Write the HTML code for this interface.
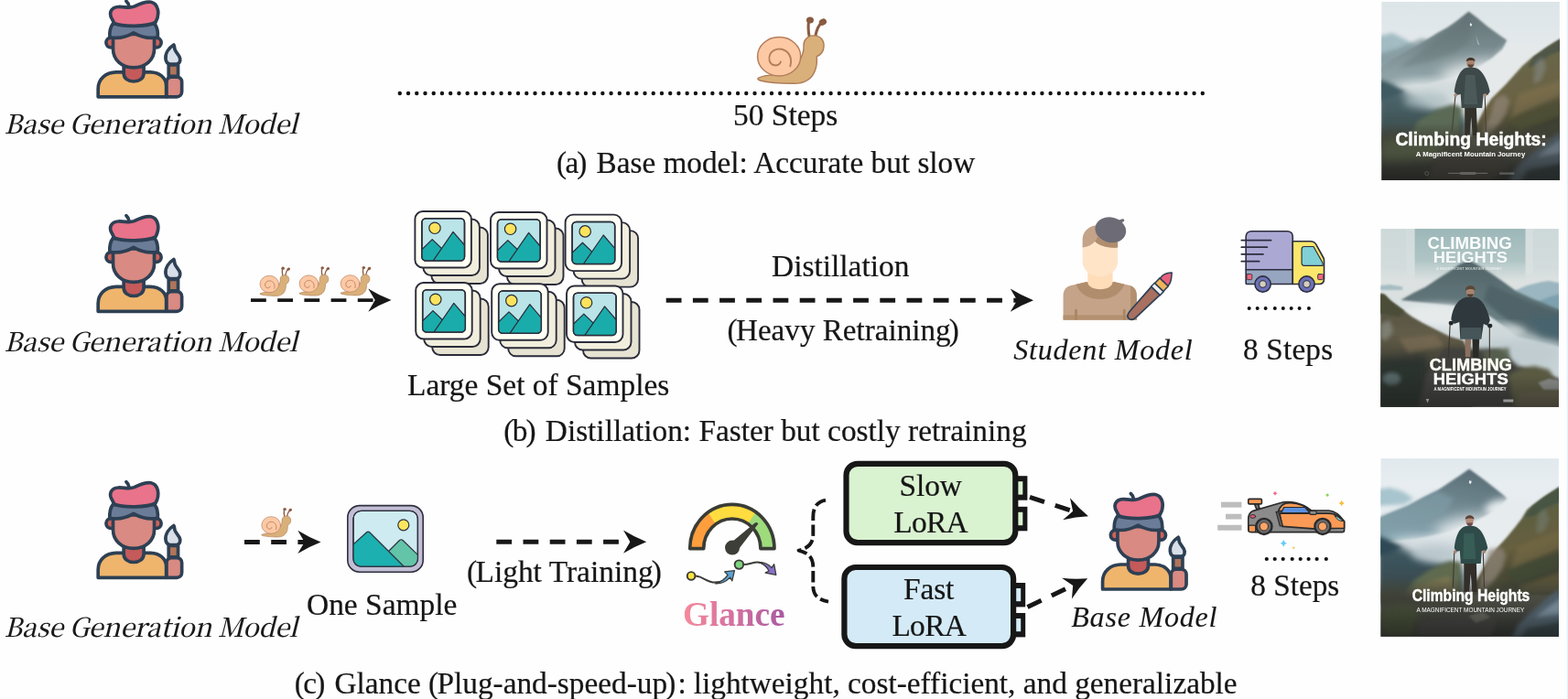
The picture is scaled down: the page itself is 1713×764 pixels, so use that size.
<!DOCTYPE html>
<html lang="en">
<head>
<meta charset="utf-8">
<title>Glance: base model, distillation, and plug-and-speed-up comparison</title>
<style>
  html, body { margin: 0; padding: 0; background: #ffffff; }
  body { width: 1713px; height: 764px; overflow: hidden; position: relative; }
  svg#fig { position: absolute; left: 0; top: 0; display: block; will-change: transform; }
  .t  { font-family: "Liberation Serif", serif; fill: #161616; font-size: 33.45px; stroke: #161616; stroke-width: 0.22px; }
  .ti { font-family: "Liberation Serif", serif; fill: #161616; font-size: 33.45px; font-style: italic; stroke: #161616; stroke-width: 0.22px; }
  .tn { font-family: "Noto Serif CJK SC", "Liberation Serif", serif; fill: #1a1a1a; font-size: 28.6px; font-style: italic; font-weight: 500; letter-spacing: -0.28px; }
  .ph { font-family: "Liberation Sans", sans-serif; font-weight: bold; fill: #ffffff; }
</style>
</head>
<body>
<svg id="fig" width="1713" height="764" viewBox="0 0 1713 764">
<rect x="0" y="0" width="1713" height="764" fill="#fefefe"/>
<defs>
  <linearGradient id="gl" x1="0" y1="0" x2="1" y2="0">
    <stop offset="0" stop-color="#f68a9b"/>
    <stop offset="0.5" stop-color="#d4709f"/>
    <stop offset="1" stop-color="#a85aa2"/>
  </linearGradient>

  <!-- artist with beret + brush (outlined flat icon); local units = 1/6.112 px -->
  <symbol id="artist" viewBox="0 0 764 764">
    <g stroke="#2e4054" stroke-width="22.5" stroke-linejoin="round" stroke-linecap="round">
      <!-- shirt -->
      <path d="M105 703 V650 C105 585 155 540 225 538 H455 C515 540 560 575 560 630 V703 Z" fill="#f0b56c"/>
      <!-- neck -->
      <path d="M276 500 V545 C276 580 305 600 342 600 C380 600 410 580 410 545 V500 Z" fill="#c45a5a"/>
      <!-- ears -->
      <circle cx="191.5" cy="341" r="33" fill="#cf6259"/>
      <circle cx="493.5" cy="341" r="33" fill="#cf6259"/>
      <!-- face -->
      <path d="M205 285 V385 C205 455 262 508 342 508 C422 508 480 455 480 385 V285 Z" fill="#d98a82"/>
      <!-- hair -->
      <path d="M183 305 C180 266 188 236 203 216 H483 C498 236 506 266 503 305 C440 316 385 300 342 275 C300 300 245 316 183 305 Z" fill="#6b7c98"/>
      <!-- beret stem -->
      <path d="M312 100 C310 85 303 72 293 64" fill="none"/>
      <!-- beret -->
      <path d="M200 186 C172 144 192 104 240 102 C285 100 312 114 345 100 C385 80 420 64 458 70 C505 80 522 146 488 206 C430 236 270 236 216 214 C208 206 204 196 200 186 Z" fill="#e8738a"/>
      <!-- brush tip -->
      <path d="M610 356 C580 375 552 410 556 450 C558 470 570 482 585 484 H630 C645 482 655 470 652 448 C650 425 625 410 618 388 C614 376 616 366 610 356 Z" fill="#d8dfe8"/>
      <!-- ferrule -->
      <rect x="576" y="490" width="63" height="75" fill="#b0755a"/>
      <!-- hand -->
      <path d="M562 703 V604 C562 585 577 570 596 570 H630 C649 570 664 585 664 604 V669 C664 688 649 703 630 703 Z" fill="#d98a82"/>
    </g>
  </symbol>

  <!-- snail; local units = 1/8.49 px -->
  <symbol id="snail" viewBox="0 0 849 764">
    <g stroke-linejoin="round" stroke-linecap="round">
      <!-- antennae -->
      <path d="M588 258 C578 210 574 160 582 112" fill="none" stroke="#8a5a42" stroke-width="26"/>
      <path d="M644 250 C652 200 672 150 706 120" fill="none" stroke="#8a5a42" stroke-width="26"/>
      <ellipse cx="594" cy="102" rx="34" ry="30" fill="#8a5a42"/>
      <ellipse cx="712" cy="120" rx="36" ry="30" fill="#8a5a42" transform="rotate(-25 712 120)"/>
      <!-- body -->
      <path d="M112 640 C150 620 200 612 250 612 C330 612 420 580 480 500 C520 445 540 400 535 340 C532 290 570 245 628 245 C690 245 725 290 722 345 C720 395 690 425 655 440 C660 480 655 530 640 570 C610 650 540 690 440 690 C330 690 200 680 130 662 C112 656 105 648 112 640 Z" fill="#d9b07a" stroke="#b07c58" stroke-width="12"/>
      <!-- shell -->
      <ellipse cx="307" cy="439" rx="200" ry="180" fill="#fdc9a5" stroke="#b57e5c" stroke-width="13"/>
      <!-- spiral -->
      <path d="M322 488 C318 515 285 528 255 518 C215 505 205 455 225 415 C250 370 315 355 365 385 C420 418 425 490 410 530" fill="none" stroke="#b47c5b" stroke-width="16"/>
    </g>
  </symbol>

  <!-- student (flat, no outline); local units = 1/5.879 px -->
  <symbol id="student" viewBox="0 0 823 764">
    <!-- body -->
    <path d="M68 715 V560 C68 520 90 498 125 492 L215 472 H400 L490 492 C520 498 540 520 540 560 V715 Z" fill="#c4a389"/>
    <path d="M500 496 C525 504 540 524 540 560 V715 H500 Z" fill="#b3906f"/>
    <rect x="68" y="684" width="472" height="31" fill="#b3906f"/>
    <rect x="142" y="645" width="16" height="70" rx="8" fill="#a98563"/>
    <rect x="452" y="645" width="16" height="70" rx="8" fill="#a98563"/>
    <!-- collar -->
    <path d="M150 486 L215 472 H400 L460 486 C440 545 380 582 305 582 C230 582 170 545 150 486 Z" fill="#b08d6c"/>
    <!-- neck -->
    <path d="M225 390 H385 V470 C385 500 350 518 305 518 C260 518 225 500 225 470 Z" fill="#ffddb8"/>
    <!-- face -->
    <path d="M192 215 H418 V340 C418 395 370 436 305 436 C240 436 192 395 192 340 Z" fill="#ffe4c8"/>
    <!-- hair -->
    <path d="M192 250 V200 C192 140 240 104 305 104 C370 104 418 140 418 200 V250 C370 255 310 245 272 212 C250 235 225 248 192 250 Z" fill="#c4a389"/>
    <path d="M272 212 C300 240 360 255 418 250 V215 C380 225 320 215 290 180 Z" fill="#b08d6c"/>
    <!-- beret -->
    <ellipse cx="372" cy="137" rx="100" ry="81" fill="#6d6b75" transform="rotate(14 372 137)"/>
    <path d="M400 102 C415 88 432 80 450 76" stroke="#6d6b75" stroke-width="20" stroke-linecap="round" fill="none"/>
    <!-- brush -->
    <g transform="rotate(-46 505 690)">
      <path d="M482 690 C482 672 495 664 520 662 L730 652 V728 L520 718 C495 716 482 708 482 690 Z" fill="#a87060" stroke="#2e4057" stroke-width="10" stroke-linejoin="round"/>
      <rect x="730" y="650" width="32" height="80" fill="#eef1f4" stroke="#2e4057" stroke-width="9"/>
      <path d="M762 652 H808 V728 H762 Z" fill="#f0b458" stroke="#2e4057" stroke-width="9" stroke-linejoin="round"/>
      <path d="M808 655 C835 650 862 660 886 684 C862 704 838 728 808 725 Z" fill="#e8607b" stroke="#2e4057" stroke-width="9" stroke-linejoin="round"/>
    </g>
  </symbol>

  <!-- delivery truck; local units = 1/6.94 px -->
  <symbol id="truck" viewBox="0 0 833 764">
    <g stroke="#2c2d3e" stroke-width="11" stroke-linejoin="round" stroke-linecap="round">
      <path d="M112 380 V130 C112 105 130 88 155 88 H425 C450 88 467 105 467 130 V380 Z" fill="#aba9d4"/>
      <path d="M112 380 H467 V490 H120 C115 490 112 487 112 482 Z" fill="#96a5c0"/>
      <path d="M467 165 H600 C620 165 635 172 645 190 L700 290 C704 297 705 303 705 310 V450 C705 475 690 490 665 490 H467 Z" fill="#fbe76b"/>
      <path d="M555 205 H625 L695 330 V350 H555 C543 350 535 342 535 330 V225 C535 213 543 205 555 205 Z" fill="#80d0d6" stroke-width="8"/>
      <rect x="118" y="414" width="40" height="42" rx="8" fill="#f2677c" stroke-width="6"/>
      <rect x="657" y="414" width="42" height="42" rx="8" fill="#f2677c" stroke-width="6"/>
      <circle cx="240" cy="490" r="60" fill="#6c70b5"/>
      <circle cx="573" cy="490" r="60" fill="#6c70b5"/>
      <circle cx="240" cy="490" r="26" fill="#d4cfbd" stroke-width="7"/>
      <circle cx="573" cy="490" r="26" fill="#d4cfbd" stroke-width="7"/>
      <path d="M78 157 H303 M78 210 H273 M78 263 H243 M78 317 H213" fill="none" stroke-width="12"/>
    </g>
  </symbol>

  <!-- race car; local units = 1/8.044 px -->
  <symbol id="car" viewBox="0 0 1287 764">
    <rect x="112" y="150" width="181" height="48" fill="#bdbdbd"/>
    <rect x="153" y="255" width="140" height="47" fill="#bdbdbd"/>
    <rect x="82" y="352" width="211" height="48" fill="#bdbdbd"/>
    <g stroke="#2a2a2a" stroke-width="13" stroke-linejoin="round" stroke-linecap="round">
      <!-- spoiler -->
      <path d="M405 165 L425 215 L450 205 L440 165 Z" fill="#6f6f6f"/>
      <rect x="352" y="124" width="118" height="44" rx="10" fill="#fa9a56"/>
      <!-- body rear (gray) -->
      <path d="M352 395 V300 C352 265 365 240 395 228 L625 160 C665 148 720 146 770 158 C820 170 870 195 905 225 H1060 C1110 228 1160 270 1195 320 V405 C1195 410 1190 415 1180 415 H375 C360 415 352 408 352 395 Z" fill="#8b8b8b"/>
      <!-- orange body -->
      <path d="M628 250 H1060 C1110 250 1160 280 1195 322 V380 L920 385 L650 365 Z" fill="#fa9a56"/>
      <path d="M615 230 C630 195 650 170 680 162 C730 155 790 165 830 180 L890 225 Z" fill="#fa9a56"/>
      <!-- window -->
      <path d="M665 197 H850 L892 247 H640 Z" fill="#5b90e0" stroke-width="10"/>
      <!-- pillar -->
      <path d="M595 235 L620 240 L655 360 L630 362 Z" fill="#5f5f5f" stroke-width="9"/>
      <rect x="892" y="228" width="58" height="32" rx="8" fill="#8b8b8b" stroke-width="9"/>
      <!-- lights -->
      <path d="M1112 272 C1140 280 1165 298 1182 318 C1160 318 1130 310 1112 272 Z" fill="#8ad8e6" stroke-width="8"/>
      <ellipse cx="392" cy="277" rx="24" ry="15" fill="#e65a7c" stroke-width="8"/>
      <rect x="356" y="355" width="60" height="58" rx="10" fill="#fa9a56" stroke-width="9"/>
      <!-- wheels -->
      <circle cx="490" cy="365" r="69" fill="#6b6b6b" stroke-width="19"/>
      <circle cx="1005" cy="365" r="69" fill="#6b6b6b" stroke-width="19"/>
      <circle cx="490" cy="365" r="37" fill="#fda566" stroke-width="7"/>
      <circle cx="1005" cy="365" r="37" fill="#fda566" stroke-width="7"/>
    </g>
    <!-- sparkles -->
    <path d="M587 55 Q592 70 607 75 Q592 80 587 95 Q582 80 567 75 Q582 70 587 55 Z" fill="#f46a8e"/>
    <circle cx="1047" cy="89" r="13" fill="#8ad45a"/>
    <path d="M1172 135 Q1178 154 1197 160 Q1178 166 1172 187 Q1166 166 1147 160 Q1166 154 1172 135 Z" fill="#f6c044"/>
    <path d="M662 482 Q668 507 693 513 Q668 519 662 545 Q656 519 631 513 Q656 507 662 482 Z" fill="#62ccf5"/>
    <path d="M750 540 Q753 550 765 553 Q753 556 750 567 Q747 556 735 553 Q747 550 750 540 Z" fill="#f6c044"/>
  </symbol>

  <!-- stack of pictures; local units = px, front card 62x62 -->
  <symbol id="stack" viewBox="0 0 84 84" overflow="visible">
    <g stroke="#2b2c3a" stroke-width="1.9" stroke-linejoin="round">
      <rect x="19" y="18.5" width="61.5" height="61.5" rx="8.5" fill="#e7e3d2"/>
      <rect x="10" y="9.5" width="61.5" height="61.5" rx="8.5" fill="#f1eedd"/>
      <rect x="1" y="1" width="61.5" height="61.5" rx="8.5" fill="#fffff4"/>
      <rect x="8.5" y="8.8" width="46.6" height="46.2" rx="4.5" fill="#bae4e8" stroke-width="1.5"/>
    </g>
    <clipPath id="stackclip"><rect x="8.5" y="8.8" width="46.6" height="46.2" rx="4.5"/></clipPath>
    <g clip-path="url(#stackclip)" stroke="#2b2c3a" stroke-width="1.2" stroke-linejoin="round">
      <path d="M0 51 L19.8 31.6 L40 51 V60 H0 Z" fill="#1aacab"/>
      <path d="M16 62 L42.6 23.4 L62 46 V62 Z" fill="#1aacab"/>
    </g>
    <rect x="8.5" y="8.8" width="46.6" height="46.2" rx="4.5" fill="none" stroke="#2b2c3a" stroke-width="1.5"/>
    <circle cx="22.6" cy="19.3" r="6.2" fill="#fbe35c" stroke="#2b2c3a" stroke-width="1.2"/>
  </symbol>
</defs>
<!-- ===== row (a) ===== -->
<use href="#artist" x="90" y="-9.2" width="125" height="125"/>
<!-- ===== row (b) ===== -->
<use href="#artist" x="90" y="225.3" width="125" height="125"/>
<!-- ===== row (c) ===== -->
<use href="#artist" x="90" y="516.3" width="125" height="125"/>
<use href="#artist" x="1187.4" y="529" width="125" height="125"/>
<!-- snails -->
<use href="#snail" x="815" y="10" width="100" height="90"/>
<!-- small snails on arrow (row b) -->
<use href="#snail" x="278.5" y="287.9" width="43.8" height="39.4"/>
<use href="#snail" x="321.6" y="287.5" width="43.8" height="39.4"/>
<use href="#snail" x="366.7" y="287.3" width="43.8" height="39.4"/>
<!-- sample stacks -->
<use href="#stack" x="452.4" y="230" width="84" height="84"/>
<use href="#stack" x="535" y="231" width="84" height="84"/>
<use href="#stack" x="616.6" y="233.6" width="84" height="84"/>
<use href="#stack" x="453.2" y="308" width="84" height="84"/>
<use href="#stack" x="536.2" y="309.3" width="84" height="84"/>
<use href="#stack" x="618" y="311.5" width="84" height="84"/>
<!-- student + truck -->
<use href="#student" x="1150" y="228" width="140" height="130"/>
<use href="#truck" x="1345" y="240" width="120" height="110"/>
<!-- row c -->
<use href="#snail" x="280.3" y="551.2" width="44" height="39.6"/>
<use href="#car" x="1320" y="530" width="160" height="95"/>
<!-- ===== dotted lines ===== -->
<g fill="#111111">
  <path id="dots50" d="M436.8 102 H1314.5" fill="none" stroke="#111111" stroke-width="4.4" stroke-linecap="round" stroke-dasharray="0 9.2316"/>
  <g id="dots8b">
    <circle cx="1364.7" cy="337" r="2"/><circle cx="1373.7" cy="337" r="2"/><circle cx="1382.6" cy="337" r="2"/><circle cx="1392.8" cy="337" r="2"/>
    <circle cx="1401.8" cy="337" r="2"/><circle cx="1410.7" cy="337" r="2"/><circle cx="1419.6" cy="337" r="2"/><circle cx="1429.9" cy="337" r="2"/>
  </g>
  <g id="dots8c">
    <circle cx="1383.8" cy="611" r="2.1"/><circle cx="1392.7" cy="611" r="2.1"/><circle cx="1401.7" cy="611" r="2.1"/><circle cx="1411.7" cy="611" r="2.1"/>
    <circle cx="1420.7" cy="611" r="2.1"/><circle cx="1429.6" cy="611" r="2.1"/><circle cx="1438.6" cy="611" r="2.1"/><circle cx="1448.8" cy="611" r="2.1"/>
  </g>
</g>

<!-- ===== dashed arrows ===== -->
<g stroke="#171717" fill="none" stroke-width="5">
  <path d="M274 328.1 H411" stroke-dasharray="16.8 12.4" stroke-width="3.8"/>
  <path d="M727.7 328.2 H1113" stroke-dasharray="16.8 12.4"/>
  <path d="M267 592.4 H334" stroke-dasharray="16.8 12.4"/>
  <path d="M542.3 592.2 H690" stroke-dasharray="16.8 12.4"/>
  <path d="M1125 543.4 L1172 558.8" stroke-dasharray="16.8 12.4"/>
  <path d="M1122.5 663.6 L1170 640.8" stroke-dasharray="16.8 12.4"/>
</g>
<g fill="#171717">
  <path d="M0 0 Q-13 -5 -25.2 -12.6 L-17.8 0 L-25.2 12.6 Q-13 5 0 0 Z" transform="translate(427.5 328.1)"/>
  <path d="M0 0 Q-13 -5 -25.2 -12.6 L-17.8 0 L-25.2 12.6 Q-13 5 0 0 Z" transform="translate(1129 328.2)"/>
  <path d="M0 0 Q-13 -5 -25.2 -12.6 L-17.8 0 L-25.2 12.6 Q-13 5 0 0 Z" transform="translate(350.5 592.4)"/>
  <path d="M0 0 Q-13 -5 -25.2 -12.6 L-17.8 0 L-25.2 12.6 Q-13 5 0 0 Z" transform="translate(706.2 592.2)"/>
  <path d="M0 0 Q-13 -5 -25.2 -12.6 L-17.8 0 L-25.2 12.6 Q-13 5 0 0 Z" transform="translate(1189 564.2) rotate(18.2)"/>
  <path d="M0 0 Q-13 -5 -25.2 -12.6 L-17.8 0 L-25.2 12.6 Q-13 5 0 0 Z" transform="translate(1188.2 632.2) rotate(-25.7)"/>
</g>

<!-- ===== single sample picture ===== -->
<g stroke="#2f2f3e" stroke-linejoin="round">
  <rect x="379.8" y="552.6" width="82.4" height="72.6" rx="13" fill="#c1bed5" stroke-width="1.6"/>
  <rect x="386" y="558.4" width="70.4" height="60.8" rx="8.5" fill="#cdebf0" stroke-width="1.3"/>
</g>
<clipPath id="picclip"><rect x="386" y="558.4" width="70.4" height="60.8" rx="8.5"/></clipPath>
<g clip-path="url(#picclip)" stroke="#2f2f3e" stroke-width="1.2" stroke-linejoin="round">
  <path d="M420 607 L436.5 590.5 Q438.3 589 440 590.5 L458 608 V622 H430 Z" fill="#63c4a8"/>
  <path d="M380 600.5 L400.3 582 Q402.2 580.4 404 582 L442 620 H380 Z" fill="#1cb0b0"/>
</g>
<rect x="386" y="558.4" width="70.4" height="60.8" rx="8.5" fill="none" stroke="#2f2f3e" stroke-width="1.3"/>
<circle cx="440.8" cy="573.8" r="6" fill="#fbe55f" stroke="#2f2f3e" stroke-width="1.2"/>

<!-- ===== speed gauge ("Glance") ===== -->
<g transform="translate(735 535) scale(0.21609)">
  <path d="M86.5 299.0 A213.5 223.5 0 0 1 180.6 113.7 L219.5 173.8 A144 151 0 0 0 156.0 299.0 Z" fill="#ff9e3d"/>
  <path d="M177.5 115.9 A213.5 223.5 0 0 1 422.5 115.9 L382.6 175.3 A144 151 0 0 0 217.4 175.3 Z" fill="#ffdc3f"/>
  <path d="M419.4 113.7 A213.5 223.5 0 0 1 513.5 299.0 L444.0 299.0 A144 151 0 0 0 380.5 173.8 Z" fill="#9edb7c"/>
  <path d="M86.5 299.0 A213.5 223.5 0 0 1 513.5 299.0 H444.0 A144 151 0 0 0 156.0 299.0 Z" fill="none" stroke="#3a3c36" stroke-width="17" stroke-linejoin="round"/>
  <circle cx="301" cy="294" r="37" fill="#3d3e37"/>
  <path d="M284 278 L414 170 Q426 162 432 174 L324 314 Z" fill="#3d3e37"/>
  <!-- path with nodes -->
  <g fill="none" stroke="#3a3c36" stroke-width="9" stroke-linecap="round">
    <path d="M112 437 C150 437 170 470 215 470 C250 470 275 455 292 432"/>
    <path d="M357 380 C390 380 400 368 430 368 C465 368 485 395 498 420"/>
  </g>
  <path d="M262 416 L312 410 L300 462 L290 445 C270 465 240 478 215 476 C245 468 265 452 278 432 Z" fill="#5aa2d4" stroke="#3a3c36" stroke-width="6" stroke-linejoin="round"/>
  <path d="M512 378 L522 432 L468 422 L486 412 C476 392 458 376 436 370 C462 368 484 378 500 396 Z" fill="#8a70c8" stroke="#3a3c36" stroke-width="6" stroke-linejoin="round"/>
  <circle cx="93" cy="437" r="20" fill="#ffe23f" stroke="#3a3c36" stroke-width="9"/>
  <circle cx="335" cy="380" r="22" fill="#7ed47e" stroke="#3a3c36" stroke-width="9"/>
</g>

<!-- ===== dashed curly brace ===== -->
<path d="M902 546.6 C893 548.5 888.3 554 888.3 565 V584 C888.3 593 884 599 872.5 601.6 C884 604.5 888.3 610 888.3 620 V640 C888.3 650 893 655.5 905 657.6" fill="none" stroke="#171717" stroke-width="3.9" stroke-dasharray="12.4 4.4" stroke-linejoin="round"/>

<!-- ===== LoRA boxes ===== -->
<g>
  <rect x="1112" y="520.2" width="10.4" height="26.5" fill="#171717"/>
  <rect x="1112" y="553.8" width="10.4" height="26.5" fill="#171717"/>
  <rect x="1112" y="526.2" width="5.3" height="14.4" fill="#d9f2d0"/>
  <rect x="1112" y="559.8" width="5.3" height="14.4" fill="#d9f2d0"/>
  <rect x="924.5" y="506.9" width="184.8" height="86.3" rx="12.5" fill="#d9f2d0" stroke="#171717" stroke-width="6.2"/>
  <rect x="1110" y="637" width="10.2" height="26.4" fill="#171717"/>
  <rect x="1110" y="670" width="10.2" height="26.4" fill="#171717"/>
  <rect x="1110" y="643" width="5.2" height="14.2" fill="#d4ebf7"/>
  <rect x="1110" y="676" width="5.2" height="14.2" fill="#d4ebf7"/>
  <rect x="922.4" y="620" width="184.7" height="86.1" rx="12.5" fill="#d4ebf7" stroke="#171717" stroke-width="6.2"/>
</g>

<!-- right edge rule -->
<rect x="1711.7" y="0" width="1.3" height="764" fill="#e2f2fb"/>
<rect x="1711.1" y="0" width="0.6" height="764" fill="#f4fafd"/>
<!-- ===== photo 1 (base model output) ===== -->
<svg x="1509.2" y="2" width="194.7" height="194.9" viewBox="0 0 194.7 194.9">
  <defs>
    <filter id="b1" x="-20%" y="-20%" width="140%" height="140%"><feGaussianBlur stdDeviation="1"/></filter>
    <filter id="b2" x="-20%" y="-20%" width="140%" height="140%"><feGaussianBlur stdDeviation="2.2"/></filter>
    <filter id="b4" x="-30%" y="-30%" width="160%" height="160%"><feGaussianBlur stdDeviation="4.5"/></filter>
    <filter id="b8" x="-40%" y="-40%" width="180%" height="180%"><feGaussianBlur stdDeviation="8"/></filter>
    <filter id="tb" x="-10%" y="-30%" width="120%" height="160%"><feGaussianBlur stdDeviation="0.35"/></filter>
    <linearGradient id="p1sky" x1="0" y1="0" x2="0" y2="1">
      <stop offset="0" stop-color="#dce5e8"/><stop offset="0.25" stop-color="#e4e9eb"/><stop offset="0.5" stop-color="#e3e7e8"/><stop offset="1" stop-color="#c9d2d3"/>
    </linearGradient>
    <linearGradient id="p1mt" x1="0" y1="0" x2="0" y2="1">
      <stop offset="0" stop-color="#627275"/><stop offset="0.5" stop-color="#7a8c90"/><stop offset="1" stop-color="#9aaeb2"/>
    </linearGradient>
    <linearGradient id="p1left" x1="0" y1="0" x2="0" y2="1">
      <stop offset="0" stop-color="#557078"/><stop offset="0.5" stop-color="#43595d"/><stop offset="1" stop-color="#394541"/>
    </linearGradient>
    <linearGradient id="p1grass" x1="0" y1="0" x2="0.3" y2="1">
      <stop offset="0" stop-color="#535947"/><stop offset="0.3" stop-color="#68674a"/><stop offset="0.7" stop-color="#6b6243"/><stop offset="1" stop-color="#3d3f30"/>
    </linearGradient>
    <linearGradient id="p1dk" x1="0" y1="0" x2="0" y2="1"><stop offset="0" stop-color="#1c1d1b" stop-opacity="0"/><stop offset="1" stop-color="#1c1d1b" stop-opacity="0.5"/></linearGradient>
    <linearGradient id="p1gnd" x1="0" y1="0" x2="0" y2="1">
      <stop offset="0" stop-color="#45453a" stop-opacity="0"/><stop offset="0.3" stop-color="#3f3f35" stop-opacity="0.92"/><stop offset="1" stop-color="#2b2c28"/>
    </linearGradient>
  </defs>
  <rect width="194.7" height="195" fill="url(#p1sky)"/>
  <!-- far pale ridge -->
  <path d="M-5 38 L12 34 L26 41 L40 50 L30 66 L-5 70 Z" fill="#a3bcc4" filter="url(#b2)"/>
  <path d="M-5 58 L20 50 L44 40 L60 44 L50 62 L20 74 L-5 80 Z" fill="#7f9499" opacity="0.75" filter="url(#b2)"/>
  <!-- main peak -->
  <path d="M95.3 10.5 L104 17 L116 27 L127 35 L137 42 L132 52 L120 62 L104 72 L80 82 L50 90 L-5 94 L-5 74 L10 64 L24 56 L37 49 L50 41 L61 34 L72 28 L82 21 Z" fill="url(#p1mt)" filter="url(#b1)"/>
  <path d="M60 40 L84 24 L95 14 L100 26 L96 44 L80 56 L50 66 L20 72 Z" fill="#5b6a6c" opacity="0.3" filter="url(#b2)"/>
  <path d="M97 23 L99 24.5 L98 27 L96.5 25.5 Z" fill="#e8eeee"/>
  <path d="M103 36 L107 47 L105.5 47 Z" fill="#b9c6c8" opacity="0.8"/>
  <!-- fog -->
  <ellipse cx="122" cy="84" rx="58" ry="19" fill="#e5e9ea" filter="url(#b8)"/>
  <ellipse cx="58" cy="95" rx="52" ry="10" fill="#d3dbdd" filter="url(#b4)"/>
  <ellipse cx="152" cy="62" rx="24" ry="14" fill="#e6e9e9" filter="url(#b4)"/>
  <!-- left dark hills -->
  <path d="M-6 86 L8 90 L22 97 L40 108 L58 116 L80 118 L95 130 L90 160 L-6 160 Z" fill="url(#p1left)" filter="url(#b4)"/>
  <path d="M-6 84 L10 90 L26 99 L-6 110 Z" fill="#3f5a62" filter="url(#b2)"/>
  <ellipse cx="50" cy="108" rx="26" ry="9" fill="#a9bcc0" opacity="0.75" filter="url(#b4)"/>
  <path d="M40 130 L60 118 L78 112 L88 116 L84 150 L30 150 Z" fill="#5a6a55" filter="url(#b2)"/>
  <!-- right grassy slope -->
  <path d="M200 38 L190 44 L180 50 L172 56 L163 62 L154 70 L145 80 L136 90 L128 98 L120 106 L112 118 L104 134 L98 150 L200 150 Z" fill="url(#p1grass)" filter="url(#b1)"/>
  <path d="M200 38 L188 45 L176 53 L166 60 L160 72 L170 68 L184 58 L200 52 Z" fill="#4f5646" filter="url(#b1)"/>
  <path d="M168 66 L176 60 L180 72 L174 86 L166 90 Z" fill="#8c969b" opacity="0.45" filter="url(#b2)"/>
  <path d="M150 100 L200 84 L200 100 L160 118 L140 130 Z" fill="#857753" opacity="0.5" filter="url(#b2)"/>
  <path d="M138 128 L200 108 L200 122 L150 142 Z" fill="#4d4f36" opacity="0.85" filter="url(#b2)"/>
  <!-- trail -->
  <path d="M124 106 L134 101 L140 108 L136 122 L128 134 L118 146 L108 150 L112 138 L119 124 Z" fill="#8f8375" opacity="0.75" filter="url(#b2)"/>
  <!-- ground -->
  <rect x="0" y="132" width="194.7" height="64" fill="url(#p1gnd)"/>
  <path d="M0 150 L40 146 L70 150 L60 170 L0 176 Z" fill="#4d5740" opacity="0.8" filter="url(#b4)"/>
  <path d="M60 172 L120 168 L140 180 L120 194.6 L50 194.6 Z" fill="#3d3b35" filter="url(#b2)"/>
  <!-- rock -->
  <path d="M200 140 L190 146 L178 156 L164 166 L152 176 L144 186 L138 200 L200 200 Z" fill="#4a555c" filter="url(#b2)"/>
  <path d="M200 148 L184 158 L170 170 L200 164 Z" fill="#6d7983" opacity="0.8" filter="url(#b2)"/>
  <path d="M160 184 L200 176 L200 200 L150 200 Z" fill="#2c3033" opacity="0.9" filter="url(#b2)"/>
  <rect x="0" y="164" width="194.7" height="32" fill="url(#p1dk)"/>
  <!-- hiker -->
  <g filter="url(#tb)">
    <path d="M77 142 L80.8 102" stroke="#4a3f35" stroke-width="1.1" fill="none"/>
    <path d="M114.2 142 L113 102" stroke="#4a3f35" stroke-width="1.1" fill="none"/>
    <path d="M91 112 L103.5 112 L105 146 L99.5 146 L98 126 L96.5 146 L91 146 Z" fill="#33322c"/>
    <path d="M89 74 C91 70.5 104 70.5 106.5 74 C112 78 116.5 88 118.5 98 L116 102 L111.5 101 L110 116 L87.5 116 L86.5 101 L82 102 L79.5 98 C81 88 84 78 89 74 Z" fill="#3e4a4a"/>
    <path d="M92 80 L102 80 L105 112 L90 112 Z" fill="#52615f" opacity="0.7"/>
    <ellipse cx="97.4" cy="66.6" rx="4.3" ry="5.4" fill="#a8826e"/>
    <path d="M92.6 65 C92.6 59.5 102.4 59.5 102.4 65 C100.5 63.5 95 63.5 92.6 65 Z" fill="#43342b"/>
    <path d="M94 68.5 C95 73 100 73 101 68.5 Z" fill="#5a4436"/>
    <ellipse cx="81" cy="102" rx="2" ry="1.8" fill="#b08a7a"/>
    <ellipse cx="113.2" cy="102" rx="2" ry="1.8" fill="#b08a7a"/>
  </g>
  <!-- caption text -->
  <g filter="url(#tb)">
    <text class="ph" x="15.2" y="157" font-size="19.6" textLength="165.4" lengthAdjust="spacingAndGlyphs" stroke="#ffffff" stroke-width="0.45">Climbing Heights:</text>
    <text class="ph" x="37.6" y="168.8" font-size="7.2" textLength="119.4" lengthAdjust="spacingAndGlyphs">A Magnificent Mountain Journey</text>
  </g>
  <g fill="#cfd3d2" opacity="0.3">
    <circle cx="49.5" cy="187.6" r="2" fill="none" stroke="#cfd3d2" stroke-width="0.8"/>
    <rect x="73" y="186.8" width="43" height="1.2"/>
    <rect x="86" y="186" width="17" height="3"/>
    <rect x="129" y="186.5" width="16" height="2.2"/>
  </g>
</svg>
<!-- ===== photo 2 (distilled student output) ===== -->
<svg x="1508.3" y="250.1" width="194.6" height="194.7" viewBox="0 0 194.6 194.7">
  <defs>
    <linearGradient id="p2sky" x1="0" y1="0" x2="0" y2="1">
      <stop offset="0" stop-color="#cdd8d9"/><stop offset="0.22" stop-color="#d3dcdc"/><stop offset="0.3" stop-color="#dde2e1"/><stop offset="0.5" stop-color="#d5dee0"/><stop offset="1" stop-color="#c3cfd3"/>
    </linearGradient>
    <linearGradient id="p2band" x1="0" y1="0" x2="0" y2="1">
      <stop offset="0" stop-color="#9cb7b8"/><stop offset="0.6" stop-color="#aec4c4" stop-opacity="0.95"/><stop offset="1" stop-color="#c5d3d3" stop-opacity="0"/>
    </linearGradient>
    <linearGradient id="p2mt" x1="0" y1="0" x2="0" y2="1">
      <stop offset="0" stop-color="#516367"/><stop offset="0.45" stop-color="#61767a"/><stop offset="1" stop-color="#7a9094"/>
    </linearGradient>
    <linearGradient id="p2dk" x1="0" y1="0" x2="0" y2="1"><stop offset="0" stop-color="#1c1d1b" stop-opacity="0"/><stop offset="1" stop-color="#1c1d1b" stop-opacity="0.5"/></linearGradient>
    <linearGradient id="p2grass" x1="0" y1="0" x2="0" y2="1">
      <stop offset="0" stop-color="#4f523f"/><stop offset="0.35" stop-color="#625c48"/><stop offset="0.65" stop-color="#3b3d34"/><stop offset="1" stop-color="#272a27"/>
    </linearGradient>
  </defs>
  <rect width="194.6" height="195" fill="url(#p2sky)"/>
  <rect x="37.3" y="0" width="121" height="58" fill="url(#p2band)"/>
  <rect x="158.3" y="0" width="8" height="50" fill="#e4e9e9" opacity="0.35"/>
  <rect x="28" y="0" width="9" height="50" fill="#e4e9e9" opacity="0.2"/>
  <!-- distant ridges -->
  <path d="M-5 62.5 L10 61 L24 63.5 L24 67 L-5 67 Z" fill="#a5bcc3" filter="url(#b1)"/>
  <path d="M146 68 L160 62 L176 58 L184 57 L200 60 L200 84 L170 80 Z" fill="#9bb6c0" filter="url(#b1)"/>
  <path d="M170 80 L186 74 L200 70 L200 98 L184 90 Z" fill="#7da1ae" filter="url(#b1)"/>
  <!-- main peak -->
  <path d="M96.2 34.4 L103 38 L112 43 L121 49 L134 58 L147 67.5 L165 76 L182 83 L200 91 L200 130 L150 118 L120 96 L80 84 L40 80 L22 78 L36 70 L49 63.6 L62 55 L75 46.6 L86 39 Z" fill="url(#p2mt)" filter="url(#b1)"/>
  <path d="M118 60 L140 70 L165 80 L200 92 L200 124 L172 118 L150 108 L128 92 L112 78 Z" fill="#506468" filter="url(#b2)"/>
  <!-- fog -->
  <ellipse cx="64" cy="95" rx="46" ry="12" fill="#e6eaeb" filter="url(#b4)"/>
  <ellipse cx="150" cy="136" rx="52" ry="20" fill="#c0ccd0" filter="url(#b8)"/>
  <ellipse cx="136" cy="112" rx="22" ry="8" fill="#cfd8da" opacity="0.9" filter="url(#b4)"/>
  <path d="M160 98 L200 94 L200 120 L176 118 Z" fill="#47646e" filter="url(#b4)"/>
  <!-- left slope -->
  <path d="M-5 70 L4 72 L10 78 L22 87 L34 96 L46 103 L60 110 L76 118 L90 122 L100 140 L100 200 L-5 200 Z" fill="url(#p2grass)" filter="url(#b1)"/>
  <path d="M-5 70 L4 72 L12 80 L26 90 L20 96 L-5 92 Z" fill="#4b4d38" filter="url(#b1)"/>
  <path d="M0 104 L10 100 L14 112 L6 122 L0 120 Z" fill="#9a9f9c" opacity="0.5" filter="url(#b2)"/>
  <path d="M20 120 L60 116 L70 128 L30 136 Z" fill="#86755a" opacity="0.55" filter="url(#b2)"/>
  <path d="M-5 142 L50 138 L56 200 L-5 200 Z" fill="#2b302e" opacity="0.9" filter="url(#b4)"/>
  <ellipse cx="12" cy="164" rx="10" ry="7" fill="#71868a" opacity="0.6" filter="url(#b2)"/>
  <!-- path / ground -->
  <path d="M70 130 L130 132 L150 150 L200 166 L200 200 L40 200 L50 160 Z" fill="#41403c" filter="url(#b2)"/>
  <path d="M110 134 L140 130 L142 150 L120 150 Z" fill="#59624f" opacity="0.9" filter="url(#b2)"/>
  <path d="M140 160 L152 153 L168 150 L184 154 L190 164 L200 170 L200 200 L146 200 Z" fill="#5a5a42" filter="url(#b2)"/>
  <path d="M172 168 L184 164 L200 166 L200 176 L178 176 Z" fill="#8e9191" opacity="0.9" filter="url(#b1)"/>
  <path d="M150 180 L200 178 L200 200 L150 200 Z" fill="#6a6150" opacity="0.8" filter="url(#b2)"/>
  <rect x="0" y="160" width="194.6" height="35" fill="url(#p2dk)"/>
  <!-- hiker -->
  <g filter="url(#tb)">
    <path d="M74 141 L76 102" stroke="#3c342c" stroke-width="1.1" fill="none"/>
    <path d="M119 141 L119 107" stroke="#3c342c" stroke-width="1.1" fill="none"/>
    <path d="M92 118 L99 118 L98 140 L92.5 140 Z" fill="#8a705e"/>
    <path d="M100 118 L108 118 L107 141 L101 141 Z" fill="#2a2a27"/>
    <path d="M88.5 77 C91 73.5 105 73.5 107.5 77 C113 80 117 90 119.5 100 L117 106 L112.5 104 L110 120 L87 120 L86 102 L80.5 104 L77 99 C78.5 88 82.5 80 88.5 77 Z" fill="#2e393c"/>
    <path d="M88 108 L110 108 L110 121 L87 121 Z" fill="#4a5b60" opacity="0.8"/>
    <ellipse cx="98" cy="69.4" rx="4.4" ry="5.6" fill="#a9846f"/>
    <path d="M92.6 67.5 C92 60.5 104 60.5 103.4 67.5 C101 65.5 95.5 65.5 92.6 67.5 Z" fill="#5a4634"/>
    <path d="M94.4 71.5 C95.5 76 100.5 76 101.6 71.5 Z" fill="#4f3c31"/>
    <ellipse cx="77" cy="103" rx="2.6" ry="2.4" fill="#23272a"/>
    <ellipse cx="119.4" cy="106" rx="2.6" ry="2.4" fill="#23272a"/>
  </g>
  <!-- caption text -->
  <g filter="url(#tb)">
    <text class="ph" x="51.2" y="21.8" font-size="17.6" textLength="92.2" lengthAdjust="spacingAndGlyphs" opacity="0.95">CLIMBING</text>
    <text class="ph" x="57.4" y="36.8" font-size="16.4" textLength="81.4" lengthAdjust="spacingAndGlyphs" opacity="0.9">HEIGHTS</text>
    <text class="ph" x="60.8" y="44.6" font-size="3.6" textLength="72" lengthAdjust="spacingAndGlyphs" opacity="0.6">A MAGNIFICENT MOUNTAIN JOURNEY</text>
    <text class="ph" x="53.4" y="154.5" font-size="17.6" textLength="90" lengthAdjust="spacingAndGlyphs" style="fill:#fffdf4" stroke="#fffdf4" stroke-width="0.4">CLIMBING</text>
    <text class="ph" x="57.4" y="169.6" font-size="17" textLength="82" lengthAdjust="spacingAndGlyphs" stroke="#ffffff" stroke-width="0.4">HEIGHTS</text>
    <text class="ph" x="58.2" y="177.2" font-size="4.6" textLength="79.2" lengthAdjust="spacingAndGlyphs">A MAGNIFICENT MOUNTAIN JOURNEY</text>
  </g>
  <g fill="#d5d8d6" opacity="0.6">
    <path d="M49.5 186 L53 186 L51.2 190.5 Z"/>
    <rect x="134" y="186.4" width="11" height="3"/>
  </g>
</svg>
<!-- ===== photo 3 (Glance output) ===== -->
<svg x="1508.3" y="501.1" width="194.6" height="194.7" viewBox="0 0 194.6 194.7">
  <defs>
    <linearGradient id="p3sky" x1="0" y1="0" x2="0" y2="1">
      <stop offset="0" stop-color="#e1e9ee"/><stop offset="0.14" stop-color="#e7edf0"/><stop offset="0.4" stop-color="#e5ebee"/><stop offset="1" stop-color="#c6d2d6"/>
    </linearGradient>
    <linearGradient id="p3mt" x1="0.6" y1="0" x2="0.2" y2="1">
      <stop offset="0" stop-color="#5c7079"/><stop offset="0.5" stop-color="#748c95"/><stop offset="1" stop-color="#8eaeb9"/>
    </linearGradient>
    <linearGradient id="p3left" x1="0" y1="0" x2="0" y2="1">
      <stop offset="0" stop-color="#3f5b66"/><stop offset="0.5" stop-color="#3a5058"/><stop offset="1" stop-color="#3a4238"/>
    </linearGradient>
    <linearGradient id="p3grass" x1="0" y1="0" x2="0.3" y2="1">
      <stop offset="0" stop-color="#465443"/><stop offset="0.3" stop-color="#575d44"/><stop offset="0.65" stop-color="#675f3f"/><stop offset="1" stop-color="#383c2f"/>
    </linearGradient>
    <linearGradient id="p3dk" x1="0" y1="0" x2="0" y2="1"><stop offset="0" stop-color="#1c1d1b" stop-opacity="0"/><stop offset="1" stop-color="#1c1d1b" stop-opacity="0.5"/></linearGradient>
    <linearGradient id="p3gnd" x1="0" y1="0" x2="0" y2="1">
      <stop offset="0" stop-color="#45463a" stop-opacity="0"/><stop offset="0.3" stop-color="#3f4036" stop-opacity="0.92"/><stop offset="1" stop-color="#2b2d2a"/>
    </linearGradient>
  </defs>
  <rect width="194.6" height="195" fill="url(#p3sky)"/>
  <path d="M-5 34 L10 32 L24 36 L36 44 L26 50 L-5 52 Z" fill="#a8c4ce" filter="url(#b2)"/>
  <!-- main peak -->
  <path d="M96.8 11.5 L105 17.5 L114.5 24.4 L124 32 L134 40 L138 44 L130 54 L116 62 L100 70 L76 80 L40 88 L-5 92 L-5 66 L12 59 L29.4 51.9 L46 43 L62 34.8 L74 27 L86 19 Z" fill="url(#p3mt)" filter="url(#b1)"/>
  <path d="M97 24 L99.5 25 L98.5 28 L96.5 27 Z" fill="#e9f0f2"/>
  <!-- fog -->
  <ellipse cx="118" cy="82" rx="58" ry="19" fill="#e7ecee" filter="url(#b8)"/>
  <path d="M-5 66 L30 52 L62 36 L80 44 L70 60 L40 72 L-5 84 Z" fill="#7f9ca6" opacity="0.7" filter="url(#b2)"/>
  <ellipse cx="58" cy="95" rx="50" ry="10" fill="#d5dee1" filter="url(#b4)"/>
  <ellipse cx="140" cy="56" rx="26" ry="12" fill="#e6ecee" filter="url(#b4)"/>
  <!-- left dark hills -->
  <path d="M-6 84 L8 90 L22 97 L40 106 L60 112 L84 116 L92 130 L90 160 L-6 160 Z" fill="url(#p3left)" filter="url(#b4)"/>
  <path d="M-6 84 L8 90 L24 98 L-6 108 Z" fill="#2f4a54" filter="url(#b2)"/>
  <ellipse cx="60" cy="104" rx="26" ry="9" fill="#b5c5ca" opacity="0.85" filter="url(#b4)"/>
  <path d="M36 134 L56 120 L76 112 L88 114 L86 150 L26 150 Z" fill="#5f6b50" filter="url(#b2)"/>
  <path d="M40 140 L74 128 L84 150 L30 154 Z" fill="#8a7a50" opacity="0.6" filter="url(#b2)"/>
  <!-- right grassy slope -->
  <path d="M200 28 L190 35 L180 41 L172 47 L165 52 L160 56 L154 66 L147 75 L138 86 L128 97 L118 110 L110 124 L102 138 L98 150 L200 150 Z" fill="url(#p3grass)" filter="url(#b1)"/>
  <path d="M200 28 L188 36 L176 44 L166 52 L158 64 L170 62 L184 52 L200 46 Z" fill="#465443" filter="url(#b1)"/>
  <path d="M172 60 L180 54 L184 68 L178 80 L170 82 Z" fill="#7d8a86" opacity="0.4" filter="url(#b2)"/>
  <path d="M150 96 L200 78 L200 96 L160 114 L140 126 Z" fill="#7d7048" opacity="0.5" filter="url(#b2)"/>
  <path d="M136 122 L200 102 L200 118 L150 138 Z" fill="#3f4a35" opacity="0.85" filter="url(#b2)"/>
  <path d="M150 140 L200 122 L200 146 L160 150 Z" fill="#7b6b44" opacity="0.45" filter="url(#b2)"/>
  <!-- trail -->
  <path d="M118 100 L132 97 L137 106 L133 120 L125 132 L116 142 L107 146 L110 132 L114 116 Z" fill="#8c8378" opacity="0.75" filter="url(#b2)"/>
  <!-- ground -->
  <rect x="0" y="132" width="194.6" height="64" fill="url(#p3gnd)"/>
  <path d="M0 166 L30 160 L44 170 L36 194.4 L0 194.4 Z" fill="#3f4a33" opacity="0.9" filter="url(#b4)"/>
  <path d="M40 178 L100 170 L128 176 L120 194.4 L40 194.4 Z" fill="#3d3c3a" filter="url(#b2)"/>
  <path d="M96 172 L112 168 L120 174 L104 180 Z" fill="#65655c" opacity="0.8" filter="url(#b1)"/>
  <!-- rock -->
  <path d="M200 140 L188 148 L174 160 L160 172 L150 182 L142 200 L200 200 Z" fill="#4d5d68" filter="url(#b2)"/>
  <path d="M200 150 L184 162 L168 174 L200 170 Z" fill="#7c8e9c" opacity="0.8" filter="url(#b2)"/>
  <path d="M160 186 L200 178 L200 200 L150 200 Z" fill="#2f3a3c" opacity="0.9" filter="url(#b2)"/>
  <rect x="0" y="164" width="194.6" height="32" fill="url(#p3dk)"/>
  <!-- hiker -->
  <g filter="url(#tb)">
    <path d="M79 141 L80.5 102" stroke="#3f372f" stroke-width="1.1" fill="none"/>
    <path d="M113.2 141 L112 102" stroke="#3f372f" stroke-width="1.1" fill="none"/>
    <path d="M91 112 L104.5 112 L105.5 146 L100 146 L98.5 126 L96.8 146 L91 146 Z" fill="#302f2a"/>
    <path d="M89 76 C91.5 72.5 103.5 72.5 106 76 C111 79 115 88 117 98 L114.5 102 L110.5 101 L109.5 115 L87.5 115 L86.5 101 L82.5 102 L80.5 98 C81.5 88 84.5 79 89 76 Z" fill="#2f4b48"/>
    <path d="M91 82 L102 82 L104 110 L90 110 Z" fill="#3a625c" opacity="0.7"/>
    <ellipse cx="97.2" cy="68" rx="4.3" ry="5.5" fill="#b38b78"/>
    <path d="M92.4 66.6 C92.4 60.6 102.2 60.6 102.2 66.6 C100 65 95 65 92.4 66.6 Z" fill="#5a4335"/>
    <path d="M93.8 70.5 C95 75.5 100 75.5 101 70.5 Z" fill="#6b4a50"/>
    <ellipse cx="81.4" cy="102" rx="2" ry="1.8" fill="#a98572"/>
    <ellipse cx="113" cy="102" rx="2" ry="1.8" fill="#a98572"/>
  </g>
  <!-- caption text -->
  <g filter="url(#tb)">
    <text class="ph" x="34.4" y="156.4" font-size="18.2" textLength="128.6" lengthAdjust="spacingAndGlyphs" stroke="#ffffff" stroke-width="0.4">Climbing Heights</text>
    <text class="ph" x="39.2" y="167.7" font-size="8" textLength="117.8" lengthAdjust="spacingAndGlyphs" style="font-weight:normal">A MAGNIFICENT MOUNTAIN JOURNEY</text>
  </g>
</svg>
<!-- ===== text labels ===== -->
<g id="labels">
  <text class="tn" x="4.6" y="146.2">Base Generation Model</text>
  <text class="t" x="801" y="137.4">50 Steps</text>
  <text class="t" x="608" y="189.4" style="font-size:33.25px" dx="0 -1.7 -1.8 1.8">(a) Base model: Accurate but slow</text>

  <text class="tn" x="4.6" y="384">Base Generation Model</text>
  <text class="t" x="445" y="432.3">Large Set of Samples</text>
  <text class="t" x="843" y="302.2">Distillation</text>
  <text class="t" x="0" y="0" transform="translate(794.6 372.4) scale(0.991 1)" dx="0 -1.7 0 0 0 0 0 0 0 0 0 0 0 0 0 0 0 -1.8">(Heavy Retraining)</text>
  <text class="ti" x="1107.2" y="393" style="font-size:32.1px;letter-spacing:0.78px;stroke-width:0.1px">Student Model</text>
  <text class="t" x="0" y="0" transform="translate(1358.1 392.5) scale(0.992 1.034)" style="letter-spacing:0.2px">8 Steps</text>
  <text class="t" x="550.3" y="482" style="font-size:33.35px" dx="0 -1.7 -1.8 1.8">(b) Distillation: Faster but costly retraining</text>

  <text class="tn" x="4.6" y="696.2">Base Generation Model</text>
  <text class="t" x="335" y="671.9">One Sample</text>
  <text class="t" x="510" y="635.8" dx="0 -1.7 0 0 0 0 0 0 0 0 0 0 0 0 0 -1.8">(Light Training)</text>
  <text x="0" y="0" transform="translate(745.9 683.9) scale(0.968 1)" style="font-family:'Liberation Serif',serif;font-weight:bold;font-size:38.5px" fill="url(#gl)">Glance</text>
  <text class="t" x="982.6" y="541.9" style="letter-spacing:-0.15px">Slow</text>
  <text class="t" x="976.2" y="582" style="letter-spacing:-0.7px">LoRA</text>
  <text class="t" x="987" y="655.3" style="letter-spacing:-0.15px">Fast</text>
  <text class="t" x="974.4" y="694.8" style="letter-spacing:-0.7px">LoRA</text>
  <text class="ti" x="1170.2" y="685" style="font-size:32.1px;letter-spacing:0.78px;stroke-width:0.1px">Base Model</text>
  <text class="t" x="0" y="0" transform="translate(1366.3 651) scale(0.994 1.02)">8 Steps</text>
  <text class="t" x="321.8" y="758" style="font-size:33.3px" dx="0 -1.7 -1.8 1.8 0 0 0 0 0 0 0 0 -1.7 0 0 0 0 0 0 0 0 0 0 0 0 0 0 0 0 -1.8 2.2 -0.4">(c) Glance (Plug-and-speed-up): lightweight, cost-efficient, and generalizable</text>
</g>
</svg>
</body>
</html>
